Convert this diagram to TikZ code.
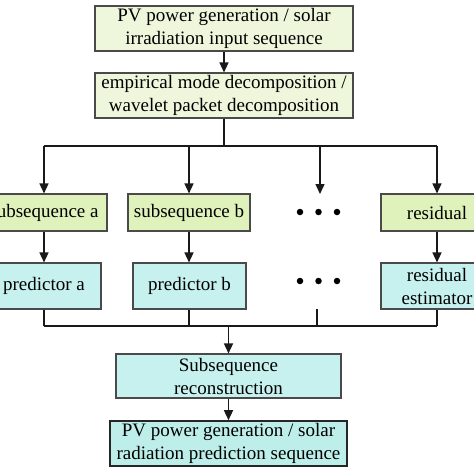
\documentclass[tikz,border=0pt]{standalone}
\usepackage{fontspec}
\setmainfont{Liberation Serif}
\usetikzlibrary{arrows.meta}
\definecolor{paleg}{HTML}{EEF7DC}
\definecolor{midg}{HTML}{E0F2BC}
\definecolor{cyanb}{HTML}{C6F1EE}
\definecolor{cyano}{HTML}{BDEEEA}
\definecolor{bord}{HTML}{4A4A4A}
\begin{document}
\begin{tikzpicture}[x=1pt,y=-1pt,
  box/.style={draw=bord,line width=1.1pt,inner sep=0pt,align=center,
    font=\fontsize{19}{23}\selectfont},
  topbox/.style={box,fill=paleg},
  greenbox/.style={box,fill=midg},
  cyanbox/.style={box,fill=cyanb},
  outbox/.style={box,fill=cyano,draw=black!85,line width=1.6pt},
  conn/.style={line width=1.4pt,black!90},
  arr/.style={conn,-{Triangle[length=10pt,width=9pt]}},
  dot/.style={circle,fill=black,inner sep=0pt,minimum size=6.5pt}]
\useasboundingbox (0,0) rectangle (474,474);
\clip (0,0) rectangle (474,474);
\fill[white] (0,0) rectangle (474,474);
% nodes
\node[topbox,minimum width=258pt,minimum height=45pt] (in) at (224,28.5) {PV power generation / solar\\irradiation input sequence};
\node[topbox,minimum width=258pt,minimum height=45pt] (dec) at (224,95.5) {empirical mode decomposition /\\wavelet packet decomposition};
\node[greenbox,minimum width=126pt,minimum height=37pt] (sa) at (44,212.5) {subsequence a};
\node[greenbox,minimum width=122pt,minimum height=37pt] (sb) at (189,212.5) {subsequence b};
\node[greenbox,minimum width=112pt,minimum height=37pt] (sr) at (437,212.5) {residual};
\node[cyanbox,minimum width=114pt,minimum height=46pt] (pa) at (44,286) {predictor a};
\node[cyanbox,minimum width=113pt,minimum height=46pt] (pb) at (189.5,286) {predictor b};
\node[cyanbox,minimum width=112pt,minimum height=46pt] (pr) at (437,286) {residual\\estimator};
\node[cyanbox,minimum width=225pt,minimum height=44pt] (rec) at (228.5,376) {Subsequence\\reconstruction};
\node[outbox,minimum width=237pt,minimum height=45pt] (out) at (228.5,443.5) {PV power generation / solar\\radiation prediction sequence};
% dots
\node[dot] (d1a) at (300,212) {};
\node[dot] (d1b) at (318.5,212) {};
\node[dot] (d1c) at (337,212) {};
\node[dot] (d2a) at (300,281) {};
\node[dot] (d2b) at (318.5,281) {};
\node[dot] (d2c) at (337,281) {};
% coordinates
\coordinate (j1) at (224,146);
\coordinate (h1l) at (44,146);
\coordinate (h1r) at (437,146);
\coordinate (h1b) at (189,146);
\coordinate (h1d) at (320,146);
\coordinate (d1t) at (320,194);
\coordinate (d2s) at (317,309);
\coordinate (d2e) at (317,326);
\coordinate (h2l) at (44,326);
\coordinate (h2r) at (437,326);
\coordinate (j2) at (228.5,326);
% connectors
\draw[arr] (in) -- (dec);
\draw[conn] (dec.south) -- (j1);
\draw[conn] (h1l) -- (h1r);
\draw[arr] (h1l) -- (sa.north);
\draw[arr] (h1b) -- (sb.north);
\draw[arr] (h1d) -- (d1t);
\draw[arr] (h1r) -- (sr.north);
\draw[arr] (sa) -- (pa);
\draw[arr] (sb.south) -- (sb.south |- pb.north);
\draw[arr] (sr) -- (pr);
\draw[conn] (pa.south) -- (h2l);
\draw[conn] (pb.south -| sb.south) -- (sb.south |- h2l);
\draw[conn] (d2s) -- (d2e);
\draw[conn] (pr.south) -- (h2r);
\draw[conn] (h2l) -- (h2r);
\draw[arr] (j2) -- (rec);
\draw[arr] (rec) -- (out);
\end{tikzpicture}
\end{document}
